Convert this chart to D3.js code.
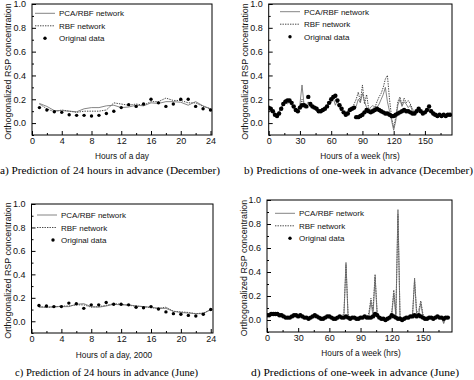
<!DOCTYPE html>
<html>
<head>
<meta charset="utf-8">
<script src="https://cdn.jsdelivr.net/npm/d3@7"></script>
<style>
  body { margin: 0; background: #fff; }
  svg { display: block; font-family: "Liberation Sans", Arial, sans-serif; }
  .caption { font-family: "Liberation Serif", "Times New Roman", serif; }
</style>
</head>
<body>
<svg id="chart" width="474" height="380"></svg>
<script>
// ---- data ----
const dayHours = [1,2,3,4,5,6,7,8,9,10,11,12,13,14,15,16,17,18,19,20,21,22,23,24];

// (a) December, 24 h ahead
const decDayOrig  = [.13,.11,.095,.09,.07,.065,.065,.06,.065,.08,.10,.13,.155,.14,.16,.20,.17,.14,.16,.20,.20,.14,.12,.11];
const decDayPca   = [.165,.14,.105,.105,.10,.095,.12,.13,.13,.145,.15,.13,.135,.15,.145,.17,.165,.18,.18,.175,.15,.18,.145,.12];
const decDayRbf   = [.16,.12,.095,.11,.10,.09,.10,.10,.10,.11,.17,.16,.15,.16,.15,.18,.18,.21,.19,.19,.17,.17,.14,.12];

// (c) June, 24 h ahead
const junDayOrig  = [.135,.13,.125,.125,.155,.15,.11,.14,.14,.16,.145,.145,.14,.12,.115,.125,.105,.08,.065,.06,.05,.045,.06,.10];
const junDayPca   = [.12,.12,.125,.125,.125,.145,.15,.125,.12,.13,.145,.14,.14,.13,.125,.12,.11,.11,.085,.075,.07,.065,.065,.10];
const junDayRbf   = [.125,.12,.12,.13,.13,.14,.14,.12,.125,.135,.15,.145,.135,.13,.125,.115,.11,.12,.085,.08,.075,.065,.07,.10];

// hours of the week, every second hour
const weekHours = d3.range(0, 176, 2);

// (b) December, one week ahead
const decWeekOrig = [.13,.12,.10,.07,.06,.08,.12,.16,.18,.19,
  .19,.17,.14,.11,.10,.13,.15,.15,.14,.22,
  .16,.14,.13,.12,.10,.10,.11,.12,.14,.17,
  .20,.22,.23,.19,.15,.12,.09,.07,.08,.11,
  .12,.13,.05,.05,.06,.07,.09,.11,.10,.09,
  .10,.11,.12,.11,.10,.09,.08,.08,.07,.06,
  .06,.07,.08,.09,.10,.11,.10,.10,.09,.08,
  .08,.10,.12,.10,.08,.09,.11,.14,.10,.08,
  .07,.06,.07,.06,.07,.06,.07,.07];
const decWeekPca  = [.12,.11,.09,.08,.07,.10,.13,.15,.17,.16,
  .18,.15,.13,.12,.11,.16,.32,.15,.14,.13,
  .15,.12,.13,.11,.10,.09,.11,.12,.15,.18,
  .17,.21,.15,.19,.14,.11,.09,.08,.10,.12,
  .13,.11,.14,.20,.17,.25,.18,.13,.12,.11,
  .12,.14,.13,.16,.20,.24,.30,.18,.10,.02,
  -.06,.02,.15,.20,.14,.18,.16,.13,.15,.10,
  .08,.10,.13,.09,.07,.09,.11,.12,.09,.06,
  .06,.05,.07,.06,.06,.07,.06,.07];
const decWeekRbf  = [.13,.12,.10,.08,.07,.10,.12,.17,.20,.18,
  .20,.16,.12,.11,.10,.14,.20,.16,.15,.18,
  .14,.13,.12,.10,.10,.10,.12,.13,.15,.16,
  .19,.20,.22,.16,.13,.10,.08,.08,.11,.13,
  .12,.16,.20,.26,.18,.32,.16,.24,.12,.13,
  .15,.13,.18,.22,.25,.30,.37,.40,.20,.05,
  -.04,.05,.18,.22,.15,.21,.17,.19,.16,.12,
  .09,.11,.12,.10,.08,.10,.12,.13,.10,.07,
  .06,.06,.08,.06,.07,.06,.07,.07];

// (d) June, one week ahead
const junWeekOrig = [.04,.04,.05,.05,.05,.05,.04,.04,.03,.02,
  .02,.02,.03,.04,.04,.03,.04,.03,.02,.02,
  .01,.02,.03,.04,.03,.02,.01,.01,.02,.03,
  .03,.02,.01,.01,.02,.03,.02,.02,.03,.02,
  .01,.02,.02,.01,.01,.02,.02,.03,.02,.02,
  .02,.03,.05,.04,.02,.01,.01,.00,.01,.02,
  .04,.03,.02,.01,.01,.00,.01,.02,.02,.03,
  .03,.04,.03,.04,.03,.02,.01,.01,.02,.02,
  .01,.02,.03,.02,.02,.01,.02,.02];
const junWeekPca  = [.04,.04,.05,.05,.05,.04,.04,.04,.03,.02,
  .02,.02,.03,.04,.04,.03,.04,.03,.02,.02,
  .01,.02,.03,.04,.03,.02,.01,.01,.02,.03,
  .03,.02,.01,.01,.02,.03,.02,.03,.48,.02,
  .01,.02,.02,.01,.01,.02,.02,.03,.02,.03,
  .15,.04,.36,.04,.02,.01,.01,.00,.01,.02,
  .04,.22,.03,.92,.01,.00,.01,.02,.02,.03,
  .03,.35,.04,.05,.14,.03,.01,.01,.02,.02,
  .01,.02,.03,.02,.02,-.03,.02,.02];
const junWeekRbf  = [.04,.05,.05,.05,.05,.05,.04,.04,.03,.02,
  .02,.02,.03,.04,.04,.03,.04,.03,.02,.02,
  .01,.02,.03,.04,.03,.02,.01,.01,.02,.03,
  .03,.02,.01,.01,.02,.03,.02,.06,.46,.05,
  .01,.02,.02,.01,.01,.02,.02,.03,.02,.06,
  .18,.08,.38,.06,.02,.01,.01,.00,.01,.03,
  .06,.25,.05,.88,.03,.00,.01,.02,.02,.03,
  .04,.33,.06,.08,.16,.05,.01,.01,.02,.02,
  .01,.02,.03,.02,.02,-.02,.02,.02];

const yTicks = [0, 0.2, 0.4, 0.6, 0.8, 1.0];
const yMinor = [-0.1, 0.1, 0.3, 0.5, 0.7, 0.9];
const dayTicks = [0, 4, 8, 12, 16, 20, 24];
const dayMinor = [2, 6, 10, 14, 18, 22];
const weekTicks = [0, 30, 60, 90, 120, 150];
const weekMinor = [15, 45, 75, 105, 135, 165];
const legendLabels = ['PCA/RBF network', 'RBF network', 'Original data'];

// ---- panel layout ----
const panels = [
  { id: 'a', box: [32, 4, 212, 135], xMax: 24.2, hours: dayHours, orig: decDayOrig, pca: decDayPca, rbf: decDayRbf,
    ticks: dayTicks, minor: dayMinor, xLabel: 'Hours of a day', xLabelPos: [122, 159],
    yLabelX: 8, leg: [35, 13.3, 45], dotR: 1.7,
    caption: 'a) Prediction of 24 hours in advance (December)', capPos: [0, 174, 220] },
  { id: 'b', box: [268.7, 4, 452, 135], xMax: 176, hours: weekHours, orig: decWeekOrig, pca: decWeekPca, rbf: decWeekRbf,
    ticks: weekTicks, minor: weekMinor, xLabel: 'Hours of a week (hrs)', xLabelPos: [360, 159],
    yLabelX: 245, leg: [280, 11.7, 290], dotR: 2.2,
    caption: 'b) Predictions of one-week in advance (December)', capPos: [244, 174, 229] },
  { id: 'c', box: [31.5, 204, 213, 333], xMax: 24.3, hours: dayHours, orig: junDayOrig, pca: junDayPca, rbf: junDayRbf,
    ticks: dayTicks, minor: dayMinor, xLabel: 'Hours of a day, 2000', xLabelPos: [114, 358],
    yLabelX: 8.3, leg: [37, 215, 53], dotR: 1.7,
    caption: 'c) Prediction of 24 hours in advance (June)', capPos: [15, 376, 183] },
  { id: 'd', box: [267, 200, 452, 332], xMax: 178, hours: weekHours, orig: junWeekOrig, pca: junWeekPca, rbf: junWeekRbf,
    ticks: weekTicks, minor: weekMinor, xLabel: 'Hours of a week (hrs)', xLabelPos: [361, 356],
    yLabelX: 243.7, leg: [275, 213.3, 290], dotR: 2.2,
    caption: 'd) Predictions of one-week in advance (June)', capPos: [251, 376, 208] }
];

const svg = d3.select('#chart');

panels.forEach(p => {
  const [L, T, R, B] = p.box;
  const x = d3.scaleLinear().domain([0, p.xMax]).range([L, R]);
  const y = d3.scaleLinear().domain([-0.1, 1.0]).range([B, T]);
  const g = svg.append('g');

  g.append('clipPath').attr('id', 'clip-' + p.id)
    .append('rect').attr('x', L).attr('y', T).attr('width', R - L).attr('height', B - T);

  // axes with inward ticks
  g.append('g').attr('transform', `translate(0,${B})`)
    .call(d3.axisBottom(x).tickValues(p.ticks).tickFormat(d3.format('d')).tickSize(-4).tickPadding(3));
  g.append('g').attr('transform', `translate(0,${B})`)
    .call(d3.axisBottom(x).tickValues(p.minor).tickFormat('').tickSize(-2));
  g.append('g').attr('transform', `translate(${L},0)`)
    .call(d3.axisLeft(y).tickValues(yTicks).tickFormat(d3.format('.1f')).tickSize(-4).tickPadding(6));
  g.append('g').attr('transform', `translate(${L},0)`)
    .call(d3.axisLeft(y).tickValues(yMinor).tickFormat('').tickSize(-2));
  g.selectAll('.domain').remove();
  g.selectAll('.tick line').attr('stroke', '#000');
  g.selectAll('.tick text').attr('font-size', 9).attr('fill', '#111')
    .attr('font-family', '"Liberation Sans", Arial, sans-serif');

  g.append('rect').attr('x', L).attr('y', T).attr('width', R - L).attr('height', B - T)
    .attr('fill', 'none').attr('stroke', '#000').attr('stroke-width', 1);

  const plot = g.append('g').attr('clip-path', `url(#clip-${p.id})`);
  const line = vals => d3.line().x((d, i) => x(p.hours[i])).y(d => y(d))(vals);

  plot.append('path').attr('d', line(p.rbf))
    .attr('fill', 'none').attr('stroke', '#333').attr('stroke-width', 0.9)
    .attr('stroke-dasharray', '1.4,1.1');
  plot.append('path').attr('d', line(p.pca))
    .attr('fill', 'none').attr('stroke', '#666').attr('stroke-width', 0.8);
  plot.selectAll('circle').data(p.orig).join('circle')
    .attr('cx', (d, i) => x(p.hours[i])).attr('cy', d => y(d))
    .attr('r', p.dotR).attr('fill', '#000');

  // legend
  const [lx, ly, dx] = p.leg;
  const lg = g.append('g').attr('font-size', 8).attr('fill', '#111');
  lg.append('line').attr('x1', lx).attr('x2', lx + 20).attr('y1', ly).attr('y2', ly)
    .attr('stroke', '#666').attr('stroke-width', 0.8);
  lg.append('line').attr('x1', lx).attr('x2', lx + 20).attr('y1', ly + 12.5).attr('y2', ly + 12.5)
    .attr('stroke', '#333').attr('stroke-width', 0.9).attr('stroke-dasharray', '1.4,1.1');
  lg.append('circle').attr('cx', dx).attr('cy', ly + 25).attr('r', 1.7).attr('fill', '#000');
  legendLabels.forEach((t, i) => {
    lg.append('text').attr('x', lx + 24).attr('y', ly + i * 12.5 + 3).text(t);
  });

  // axis titles
  g.append('text').attr('x', p.xLabelPos[0]).attr('y', p.xLabelPos[1])
    .attr('text-anchor', 'middle').attr('font-size', 8.3).attr('fill', '#111').text(p.xLabel);
  g.append('text')
    .attr('transform', `translate(${p.yLabelX + 3},${(T + B) / 2 + 2}) rotate(-90)`)
    .attr('text-anchor', 'middle').attr('font-size', 8.9).attr('fill', '#111')
    .text('Orthogonalized RSP concentration');

  // caption
  g.append('text').attr('class', 'caption')
    .attr('x', p.capPos[0]).attr('y', p.capPos[1])
    .attr('textLength', p.capPos[2]).attr('lengthAdjust', 'spacingAndGlyphs')
    .attr('font-size', 11).attr('fill', '#000').text(p.caption);
});
</script>
</body>
</html>
